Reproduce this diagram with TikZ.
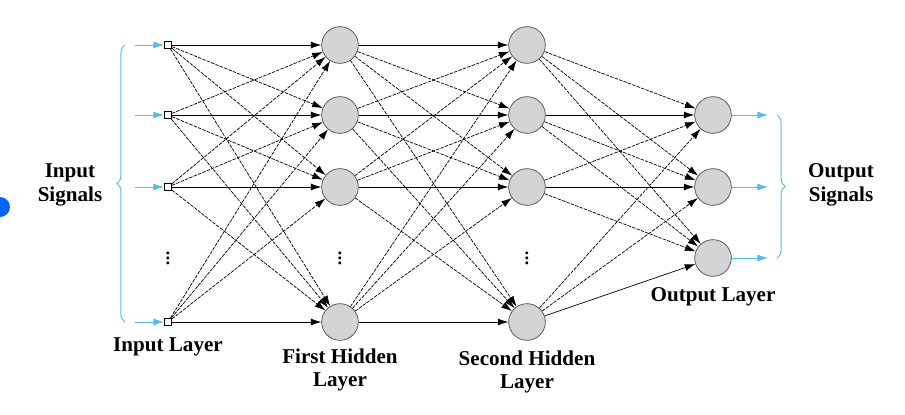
\documentclass[tikz,border=0pt]{standalone}
\usepackage{fontspec}
\setmainfont{Liberation Serif}
\usetikzlibrary{arrows.meta,decorations.pathreplacing}
\definecolor{sig}{RGB}{80,190,235}
\definecolor{neuron}{RGB}{210,212,214}
\tikzset{
  neuron/.style={circle,draw=black!70,fill=neuron,minimum size=1.1cm,inner sep=0pt},
  inp/.style={rectangle,draw,fill=white,minimum size=0.22cm,inner sep=0pt},
  lbl/.style={font=\bfseries\fontsize{18}{20}\selectfont,align=center},
  conn/.style={-{Latex[length=9pt,width=6pt]},semithick},
  diag/.style={conn,dashed,dash pattern=on 3pt off 1pt},
  sigarrow/.style={-{Latex[length=9pt,width=6pt]},sig,thick},
}
\begin{document}
\begin{tikzpicture}[x=0.03cm,y=-0.03cm,semithick]
        \useasboundingbox (0,0) rectangle (905,414);
        \fill [blue!60!cyan] (0,207) circle (10);
        % layers
        \foreach \i/\y in {1/45,2/115,3/187,4/322} {
          \node [inp] (i\i) at (168,\y) {};
          \node [neuron] (h\i) at (340,\y) {};
          \node [neuron] (s\i) at (527,\y) {};
          \coordinate (src\i) at (135,\y);
        }
        \foreach \j/\y in {1/115,2/187,3/258} {
          \node [neuron] (o\j) at (713,\y) {};
          \coordinate (dst\j) at (768,\y);
        }
        \foreach \x/\n in {168/d1,340/d2,527/d3}
          \node [font=\huge] (\n) at (\x,255) {$\vdots$};
        % connections
        \foreach \a in {1,...,4} {
          \foreach \b in {1,...,4} {
            \ifnum\a=\b
              \draw [conn] (i\a) -- (h\b);
              \draw [conn] (h\a) -- (s\b);
            \else
              \draw [diag] (i\a) -- (h\b);
              \draw [diag] (h\a) -- (s\b);
            \fi
          }
          \foreach \b in {1,2,3} {
            \pgfmathtruncatemacro{\c}{\b+1}
            \ifnum\a=\c
              \draw [conn] (s\a) -- (o\b);
            \else
              \draw [diag] (s\a) -- (o\b);
            \fi
          }
          \draw [sigarrow] (src\a) -- (i\a);
        }
        \foreach \j in {1,2,3}
          \draw [sigarrow] (o\j) -- (dst\j);
        % braces
        \draw [sig,thick,decorate,decoration={brace,amplitude=7pt}] (125,322) -- (125,45);
        \draw [sig,thick,decorate,decoration={brace,amplitude=7pt}] (777,115) -- (777,258);
        % labels
        \node [lbl] (insig) at (70,185) {Input\\Signals};
        \node [lbl] (outsig) at (841,185) {Output\\Signals};
        \node [lbl] (inlay) at (168,347) {Input Layer};
        \node [lbl] (h1lay) at (340,370) {First Hidden\\Layer};
        \node [lbl] (h2lay) at (527,372) {Second Hidden\\Layer};
        \node [lbl] (outlay) at (713,297) {Output Layer};
\end{tikzpicture}
\end{document}
